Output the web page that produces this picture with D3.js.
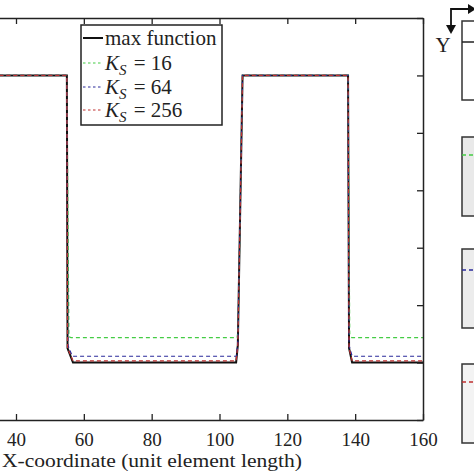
<!DOCTYPE html>
<html>
<head>
<meta charset="utf-8">
<script src="https://cdn.jsdelivr.net/npm/d3@7/dist/d3.min.js"></script>
<style>
  html, body { margin: 0; padding: 0; background: #fff; }
  svg { display: block; }
</style>
</head>
<body>
<div id="chart"></div>
<script>
// ── Data (x in unit elements, y = normalised value) ─────────────────────────
const maxX   = [0, 55, 55.2, 56.8, 104.9, 105.4, 106.8, 137.9, 138.2, 139.1, 160];
const maxY   = [1, 1,  0.05, 0,    0,     0.06,  1,     1,     0.05,  0,     0];

const ks16X  = [0, 55, 55.6, 56.2,  105.2, 105.5, 106.8, 137.9, 138.4, 139.0, 160];
const ks16Y  = [1, 1,  0.09, 0.087, 0.087, 0.12,  1,     1,     0.10,  0.087, 0.087];

const ks64X  = [0, 55, 55.3, 56.6,  105.0, 105.4, 106.8, 137.9, 138.2, 139.1, 160];
const ks64Y  = [1, 1,  0.06, 0.022, 0.022, 0.07,  1,     1,     0.06,  0.022, 0.022];

const ks256X = [0, 55, 55.2, 56.8,  104.9, 105.4, 106.8, 137.9, 138.2, 139.1, 160];
const ks256Y = [1, 1,  0.05, 0.006, 0.006, 0.06,  1,     1,     0.05,  0.006, 0.006];

// visible part of the axis only (the left part of the figure is cropped)
const xTicks = [40, 60, 80, 100, 120, 140, 160];
const yTicks = [-0.2, 0, 0.2, 0.4, 0.6, 0.8, 1.0, 1.2];

const seriesNames  = ['max function', 'K_S = 16', 'K_S = 64', 'K_S = 256'];
const seriesColors = ['#111', '#44cc44', '#2a2a9a', '#c03030'];

// ── Layout ─────────────────────────────────────────────────────────────────
const W = 474, H = 474;
const serif = '"Liberation Serif", "DejaVu Serif", serif';

const x = d3.scaleLinear().domain([0, 160]).range([16 - 40 * 3.3917, 423]);
const y = d3.scaleLinear().domain([-0.2, 1.2]).range([420, 18]);

const svg = d3.select('#chart').append('svg').attr('width', W).attr('height', H);

svg.append('clipPath').attr('id', 'plot-clip')
  .append('rect').attr('x', x(0)).attr('y', y(1.2)).attr('width', x(160) - x(0)).attr('height', y(-0.2) - y(1.2));

// ── Curves ─────────────────────────────────────────────────────────────────
const series = [
  { xs: maxX,   ys: maxY,   color: seriesColors[0], width: 2,   dash: null },
  { xs: ks16X,  ys: ks16Y,  color: seriesColors[1], width: 1.2, dash: '4,3' },
  { xs: ks64X,  ys: ks64Y,  color: seriesColors[2], width: 1.2, dash: '4,3' },
  { xs: ks256X, ys: ks256Y, color: seriesColors[3], width: 1.2, dash: '4,3' },
];

const line = d3.line().x(d => x(d[0])).y(d => y(d[1]));

const plot = svg.append('g').attr('clip-path', 'url(#plot-clip)');
plot.selectAll('path.curve')
  .data(series)
  .join('path')
  .attr('class', 'curve')
  .attr('d', s => line(s.xs.map((v, i) => [v, s.ys[i]])))
  .attr('fill', 'none')
  .attr('stroke', s => s.color)
  .attr('stroke-width', s => s.width)
  .attr('stroke-dasharray', s => s.dash);

// ── Axes (ticks inward, box frame) ─────────────────────────────────────────
const axisStyle = g => {
  g.select('.domain').attr('stroke', '#222').attr('stroke-width', 1.5);
  g.selectAll('.tick line').attr('stroke', '#222').attr('stroke-width', 1.3);
};

svg.append('g')
  .attr('transform', `translate(0,${y(-0.2)})`)
  .call(d3.axisBottom(x).tickValues(xTicks).tickSizeInner(-6).tickSizeOuter(0).tickPadding(13))
  .call(axisStyle)
  .call(g => g.selectAll('.tick text')
    .attr('font-family', serif).attr('font-size', 19).attr('fill', '#222'));

svg.append('g')
  .attr('transform', `translate(0,${y(1.2)})`)
  .call(d3.axisTop(x).tickValues(xTicks).tickSizeInner(-6).tickSizeOuter(0).tickFormat(''))
  .call(axisStyle);

svg.append('g')
  .attr('transform', `translate(${x(160)},0)`)
  .call(d3.axisRight(y).tickValues(yTicks).tickSizeInner(-6).tickSizeOuter(0).tickFormat(''))
  .call(axisStyle);

// x label
svg.append('text')
  .attr('x', 152).attr('y', 467)
  .attr('text-anchor', 'middle')
  .attr('font-family', serif).attr('font-size', 19).attr('fill', '#222')
  .attr('textLength', 300).attr('lengthAdjust', 'spacingAndGlyphs')
  .text('X-coordinate (unit element length)');

// ── Legend ─────────────────────────────────────────────────────────────────
const leg = svg.append('g').attr('transform', 'translate(81,25)');
leg.append('rect').attr('width', 141).attr('height', 100)
  .attr('fill', '#fff').attr('stroke', '#222').attr('stroke-width', 1.5);

const rowY = [13, 38, 62, 85];
series.forEach((s, i) => {
  const r = leg.append('g').attr('transform', `translate(0,${rowY[i]})`);
  r.append('line').attr('x1', 2).attr('x2', 22).attr('y1', 0).attr('y2', 0)
    .attr('stroke', s.color).attr('stroke-width', s.width)
    .attr('stroke-dasharray', s.dash ? '2.5,2.5' : null);
  const t = r.append('text').attr('x', 24).attr('y', 7)
    .attr('font-family', serif).attr('font-size', 21).attr('fill', '#222');
  const name = seriesNames[i];
  if (name.startsWith('K_S')) {
    t.append('tspan').attr('font-style', 'italic').text('K');
    t.append('tspan').attr('font-style', 'italic').attr('font-size', 15).attr('dy', 5).text('S');
    t.append('tspan').attr('dy', -5).attr('dx', 2)
      .text(name.slice(3).trim().replace(' = ', '').replace(/^=\s*/, '\u00a0=\u00a0'));
  } else {
    t.text(name);
  }
});

// ── Side schematic (clipped at right edge) ─────────────────────────────────
const side = svg.append('g');
const arrowColor = '#111';
side.append('path').attr('d', 'M451,32 L451,9 L470,9')
  .attr('fill', 'none').attr('stroke', arrowColor).attr('stroke-width', 1.8);
side.append('path').attr('d', 'M468,4 L476,9 L468,14 Z').attr('fill', arrowColor);
side.append('path').attr('d', 'M446,25 L451,34 L456,25 Z').attr('fill', arrowColor);
side.append('text').attr('x', 443).attr('y', 52).attr('text-anchor', 'middle')
  .attr('font-family', serif).attr('font-size', 21).attr('fill', '#222').text('Y');

const boxTop   = [21, 137, 249, 364];
const boxFill  = ['#fff', '#e9e9e9', '#ececec', '#f3f3f3'];
const boxLineY = [21, 18, 21, 18];
const boxLineC = ['#222', seriesColors[1], seriesColors[2], seriesColors[3]];
const boxDash  = [null, '4,3', '4,3', '4,3'];

boxTop.forEach((t, i) => {
  side.append('rect').attr('x', 462).attr('y', t).attr('width', 20).attr('height', 79)
    .attr('fill', boxFill[i]).attr('stroke', '#333').attr('stroke-width', 1.5);
  side.append('line').attr('x1', 462).attr('x2', 480)
    .attr('y1', t + boxLineY[i]).attr('y2', t + boxLineY[i])
    .attr('stroke', boxLineC[i]).attr('stroke-width', i === 0 ? 1.5 : 1.3)
    .attr('stroke-dasharray', boxDash[i]);
});
</script>
</body>
</html>
